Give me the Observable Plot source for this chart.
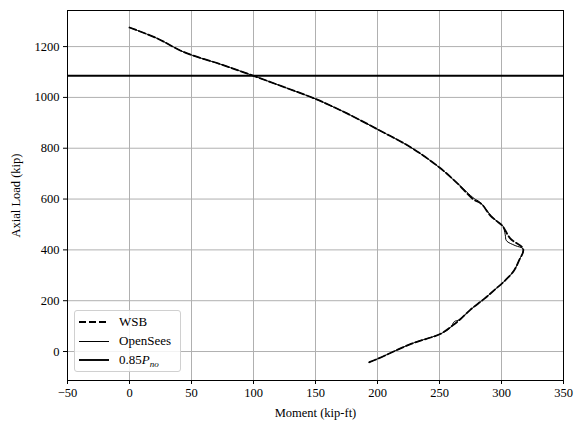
<!DOCTYPE html>
<html>
<head>
<meta charset="utf-8">
<script src="https://cdn.jsdelivr.net/npm/d3@7"></script>
<script src="https://cdn.jsdelivr.net/npm/@observablehq/plot@0.6"></script>
<style>
  html, body { margin: 0; padding: 0; background: #fff; }
  #wrap { position: relative; width: 583px; height: 431px; font-family: "Liberation Serif", serif; }
  #legend { position: absolute; left: 74px; top: 310px; width: 107px; height: 62px; box-sizing: border-box;
    border: 1px solid #d0d0d0; border-radius: 3px; background: rgba(255,255,255,0.85); font-size: 13px; }
  .row { position: absolute; left: 0; height: 18px; display: flex; align-items: center; }
  .row svg { margin-left: 4px; margin-right: 10px; }
  sub { font-size: 9px; vertical-align: -3px; }
</style>
</head>
<body>
<div id="wrap"></div>
<script>
// Moment (kip-ft) and axial load (kip)
const wsbMoment = [0, 22, 44, 75, 100, 125, 150, 162, 175, 201, 227, 250, 264, 277, 284, 291, 297, 301, 307, 317.5, 314, 310, 303, 295, 286, 275, 267, 261, 251, 227, 200, 193];
const wsbAxial  = [1275, 1233, 1178, 1128, 1085, 1040, 994, 968, 938, 872, 803, 724, 664, 600, 580, 535, 510, 493, 445, 403, 357, 318, 280, 245, 207, 165, 128, 104, 70, 30, -29, -43];

const osMoment = [0, 22, 44, 75, 100, 125, 150, 162, 175, 201, 227, 250, 264, 278, 282, 286, 291, 297, 301, 303, 304, 311, 317.5, 314, 310, 303, 295, 286, 275, 266, 262, 259, 251, 227, 200, 193];
const osAxial  = [1275, 1233, 1178, 1128, 1085, 1040, 994, 968, 938, 872, 803, 724, 664, 602, 590, 570, 537, 510, 495, 460, 436, 417, 403, 357, 318, 280, 245, 207, 165, 125, 118, 95, 70, 30, -29, -43];

const pnoLine = 1085; // 0.85 P_no

const xTicks = [-50, 0, 50, 100, 150, 200, 250, 300, 350];
const yTicks = [0, 200, 400, 600, 800, 1000, 1200];

const wsb = wsbMoment.map((m, i) => ({m, p: wsbAxial[i]}));
const os = osMoment.map((m, i) => ({m, p: osAxial[i]}));

const fmt = d => d < 0 ? "\u2212" + Math.abs(d) : String(d);

const chart = Plot.plot({
  width: 583,
  height: 431,
  marginLeft: 67,
  marginRight: 20,
  marginTop: 10,
  marginBottom: 51,
  style: {fontFamily: "Liberation Serif, serif", fontSize: "12.5px", color: "black", background: "white"},
  x: {domain: [-50, 350]},
  y: {domain: [-114, 1342]},
  marks: [
    Plot.gridX(xTicks, {stroke: "#b0b0b0", strokeOpacity: 1, strokeWidth: 1}),
    Plot.gridY(yTicks, {stroke: "#b0b0b0", strokeOpacity: 1, strokeWidth: 1}),
    Plot.axisX(xTicks, {tickSize: 4, tickPadding: 4, tickFormat: fmt, label: "Moment (kip-ft)", labelAnchor: "center", labelArrow: "none", labelOffset: 36, fontSize: 12.5}),
    Plot.axisY(yTicks, {tickSize: 4, tickPadding: 4, tickFormat: fmt, label: "Axial Load (kip)", labelAnchor: "center", labelArrow: "none", labelOffset: 56, fontSize: 12.5}),
    Plot.line(wsb, {x: "m", y: "p", stroke: "black", strokeWidth: 1.8, strokeDasharray: "7,3", curve: "catmull-rom"}),
    Plot.line(os, {x: "m", y: "p", stroke: "black", strokeWidth: 1, curve: "catmull-rom"}),
    Plot.ruleY([pnoLine], {stroke: "black", strokeWidth: 1.9}),
    Plot.frame({stroke: "black", strokeWidth: 1})
  ]
});

const wrap = document.getElementById("wrap");
wrap.appendChild(chart);

const legend = document.createElement("div");
legend.id = "legend";
legend.innerHTML = `
  <div class="row" style="top:2px"><svg width="30" height="6"><line x1="0" y1="3" x2="30" y2="3" stroke="black" stroke-width="1.8" stroke-dasharray="7,3"/></svg><span>WSB</span></div>
  <div class="row" style="top:21px"><svg width="30" height="6"><line x1="0" y1="3.5" x2="30" y2="3.5" stroke="black" stroke-width="1"/></svg><span>OpenSees</span></div>
  <div class="row" style="top:40px"><svg width="30" height="6"><line x1="0" y1="3" x2="30" y2="3" stroke="black" stroke-width="1.9"/></svg><span>0.85<i>P</i><sub><i>no</i></sub></span></div>`;
wrap.appendChild(legend);
</script>
</body>
</html>
